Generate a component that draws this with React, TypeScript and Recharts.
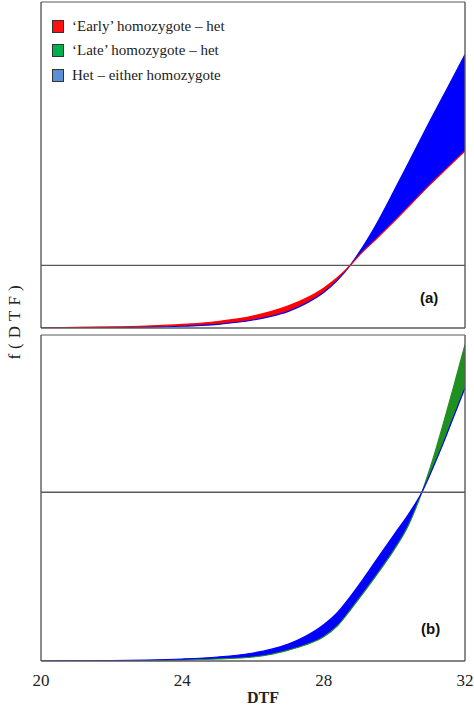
import React from 'react';
import {
  ComposedChart,
  Area,
  Line,
  XAxis,
  YAxis,
  ReferenceLine,
  Label,
} from 'recharts';

// panel (a): het vs 'early' homozygote
const dtfA = [20, 21, 22, 23, 24, 25, 26, 26.5, 27, 27.5, 28, 28.4, 28.75, 29, 29.5, 30, 30.5, 31, 31.5, 32];
const hetA = [0, 0.005, 0.011, 0.023, 0.049, 0.1, 0.22, 0.32, 0.46, 0.68, 0.98, 1.33, 1.73, 2.08, 2.88, 3.8, 4.75, 5.7, 6.62, 7.55];
const earlyA = [0, 0.017, 0.03, 0.055, 0.1, 0.18, 0.33, 0.45, 0.61, 0.82, 1.1, 1.4, 1.73, 2.0, 2.47, 2.95, 3.45, 3.95, 4.42, 4.89];
const thresholdA = 1.73;

// panel (b): het vs 'late' homozygote
const dtfB = [20, 21, 22, 23, 24, 25, 26, 26.5, 27, 27.5, 28, 28.4, 28.75, 29, 29.5, 30, 30.4, 30.78, 31.1, 31.4, 31.7, 32];
const hetB = [0, 0.005, 0.01, 0.025, 0.055, 0.11, 0.22, 0.32, 0.47, 0.69, 1.0, 1.35, 1.77, 2.1, 2.8, 3.5, 4.05, 4.66, 5.35, 6.05, 6.8, 7.54];
const lateB = [0, 0, 0.004, 0.01, 0.025, 0.055, 0.11, 0.18, 0.3, 0.45, 0.67, 0.98, 1.4, 1.72, 2.38, 3.08, 3.75, 4.66, 5.6, 6.6, 7.65, 8.73];
const thresholdB = 4.66;

const xTicks = [20, 22, 24, 26, 28, 30, 32];
const xLabels = [20, 24, 28, 32];
const yTicks = [0, 1, 2, 3, 4, 5, 6, 7, 8, 9];

const legendItems = [
  { label: '‘Early’ homozygote – het', color: '#ff1010' },
  { label: '‘Late’ homozygote – het', color: '#00b050' },
  { label: 'Het – either homozygote', color: '#5b8fd6' },
];

const RED = '#ff0000';
const BLUE = '#0000ff';
const GREEN = '#1f8f1f';
const FRAME = '#5a5a5a';
const SERIF = '"Liberation Serif", "Times New Roman", serif';

// band is drawn in the colour of whichever curve is on top
const dataA = dtfA.map((x, i) => ({
  dtf: x,
  het: hetA[i],
  early: earlyA[i],
  red: earlyA[i] >= hetA[i] ? [hetA[i], earlyA[i]] : null,
  blue: hetA[i] >= earlyA[i] ? [earlyA[i], hetA[i]] : null,
}));

const dataB = dtfB.map((x, i) => ({
  dtf: x,
  het: hetB[i],
  late: lateB[i],
  blue: hetB[i] >= lateB[i] ? [lateB[i], hetB[i]] : null,
  green: lateB[i] >= hetB[i] ? [hetB[i], lateB[i]] : null,
}));

// box with small inward ticks on all four sides
const tickStyle = { stroke: '#777', strokeWidth: 1 };
const frameAxes = () => [
  <XAxis key="xb" xAxisId="x" type="number" dataKey="dtf" domain={[20, 32]} ticks={xTicks}
    orientation="bottom" mirror tick={false} tickSize={4} height={1}
    axisLine={{ stroke: FRAME, strokeWidth: 1.6 }} tickLine={tickStyle} allowDataOverflow />,
  <XAxis key="xt" xAxisId="xt" type="number" dataKey="dtf" domain={[20, 32]} ticks={xTicks}
    orientation="top" mirror tick={false} tickSize={4} height={1}
    axisLine={{ stroke: FRAME, strokeWidth: 1.2 }} tickLine={tickStyle} allowDataOverflow />,
  <YAxis key="yl" yAxisId="y" type="number" domain={[0, 9]} ticks={yTicks}
    orientation="left" mirror tick={false} tickSize={4} width={1}
    axisLine={{ stroke: FRAME, strokeWidth: 1.4 }} tickLine={tickStyle} allowDataOverflow />,
  <YAxis key="yr" yAxisId="yr" type="number" domain={[0, 9]} ticks={yTicks}
    orientation="right" mirror tick={false} tickSize={4} width={1}
    axisLine={{ stroke: FRAME, strokeWidth: 1.4 }} tickLine={tickStyle} allowDataOverflow />,
];

const LegendBox = () => (
  <div style={{ position: 'absolute', left: 52, top: 14, fontFamily: SERIF, fontSize: 15, color: '#222' }}>
    {legendItems.map((it) => (
      <div key={it.label} style={{ display: 'flex', alignItems: 'center', height: 24.5 }}>
        <span
          style={{
            width: 10,
            height: 11,
            background: it.color,
            border: '1px solid #333',
            marginRight: 8,
            display: 'inline-block',
          }}
        />
        <span>{it.label}</span>
      </div>
    ))}
  </div>
);

const panelTag: React.CSSProperties = {
  position: 'absolute',
  fontFamily: '"Liberation Sans", Arial, sans-serif',
  fontWeight: 'bold',
  fontSize: 15,
  color: '#111',
};

export default function App() {
  return (
    <div style={{ position: 'absolute', left: 0, top: 0, width: 474, height: 711, background: '#fff' }}>
      <div style={{ position: 'absolute', left: 0, top: 0 }}>
        <ComposedChart width={474} height={330} data={dataA} margin={{ top: 2, right: 9, bottom: 2, left: 41 }}>
          {frameAxes()}
          <Area xAxisId="x" yAxisId="y" type="monotone" dataKey="red" stroke="none" fill={RED} fillOpacity={1} isAnimationActive={false} />
          <Area xAxisId="x" yAxisId="y" type="monotone" dataKey="blue" stroke="none" fill={BLUE} fillOpacity={1} isAnimationActive={false} />
          <Line xAxisId="x" yAxisId="y" type="monotone" dataKey="het" stroke={BLUE} strokeWidth={1.2} dot={false} isAnimationActive={false} />
          <Line xAxisId="x" yAxisId="y" type="monotone" dataKey="early" stroke={RED} strokeWidth={1.2} dot={false} isAnimationActive={false} />
          <ReferenceLine xAxisId="x" yAxisId="y" y={thresholdA} stroke={FRAME} strokeWidth={1.4} />
        </ComposedChart>
        <LegendBox />
        <div style={{ ...panelTag, left: 420, top: 289 }}>(a)</div>
      </div>

      <div style={{ position: 'absolute', left: 0, top: 333 }}>
        <ComposedChart width={474} height={378} data={dataB} margin={{ top: 2, right: 9, bottom: 0, left: 41 }}>
          {frameAxes()}
          <XAxis xAxisId="lbl" type="number" dataKey="dtf" domain={[20, 32]} ticks={xLabels}
            orientation="bottom" height={50} tickLine={false} axisLine={false} tickMargin={7}
            tick={{ fontFamily: SERIF, fontSize: 17, fill: '#222' }} allowDataOverflow>
            <Label value="DTF" position="insideBottom" offset={8} dx={10}
              style={{ fontFamily: SERIF, fontSize: 16, fontWeight: 'bold', fill: '#222' }} />
          </XAxis>
          <Area xAxisId="x" yAxisId="y" type="monotone" dataKey="blue" stroke="none" fill={BLUE} fillOpacity={1} isAnimationActive={false} />
          <Area xAxisId="x" yAxisId="y" type="monotone" dataKey="green" stroke="none" fill={GREEN} fillOpacity={1} isAnimationActive={false} />
          <Line xAxisId="x" yAxisId="y" type="monotone" dataKey="late" stroke={GREEN} strokeWidth={1.2} dot={false} isAnimationActive={false} />
          <Line xAxisId="x" yAxisId="y" type="monotone" dataKey="het" stroke={BLUE} strokeWidth={1.2} dot={false} isAnimationActive={false} />
          <ReferenceLine xAxisId="x" yAxisId="y" y={thresholdB} stroke={FRAME} strokeWidth={1.4} />
        </ComposedChart>
        <div style={{ ...panelTag, left: 421, top: 287 }}>(b)</div>
      </div>

      <div
        style={{
          position: 'absolute',
          left: 15,
          top: 320,
          transform: 'translate(-50%, -50%) rotate(-90deg)',
          fontFamily: SERIF,
          fontSize: 17,
          letterSpacing: 5,
          color: '#222',
          whiteSpace: 'nowrap',
        }}
      >
        f(DTF)
      </div>
    </div>
  );
}
